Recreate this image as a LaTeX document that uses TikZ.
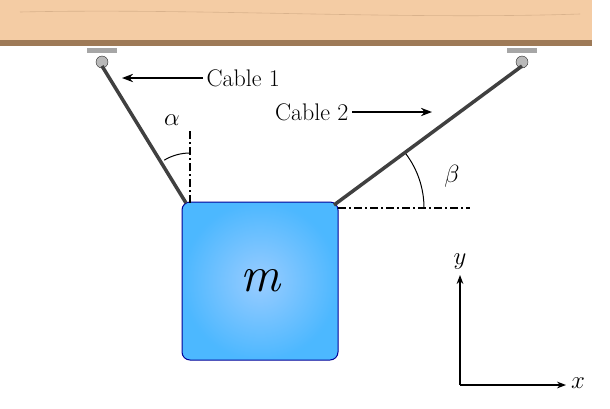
\documentclass[tikz,border=0pt]{standalone}
\usetikzlibrary{arrows.meta}
\begin{document}
\begin{tikzpicture}[x=1pt,y=-1pt,
  cable/.style={line width=3.5pt,draw=black!75},
  ref/.style={line width=1.5pt,dash pattern=on 8pt off 3pt on 2pt off 3pt},
  lab/.style={font=\fontsize{24}{28}\selectfont},
  glab/.style={font=\fontsize{30}{34}\selectfont},
  arr/.style={-{Stealth[length=11pt]},line width=2pt}]
\useasboundingbox (0,0) rectangle (610,408);
\fill[brown!45!orange!40!white] (0,0) rectangle (592,40);
\fill[brown!70!black!80] (0,40) rectangle (592,46);
\draw[brown!60,line width=0.6pt] (20,12) .. controls (200,8) and (400,20) .. (580,14);
\foreach \p/\x/\y in {m1/102/48,m2/522/48}{
  \fill[gray!70] (\x-15,\y) rectangle (\x+15,\y+5);
  \fill[gray!55,draw=gray!30!black] (\x,\y+14) circle (6);
  \coordinate (\p) at (\x,\y+18);
}
\node[draw=blue!60!black,rounded corners=8pt,minimum width=156pt,minimum height=158pt,
  inner color=cyan!50!blue!40,outer color=cyan!60!blue!70,line width=1pt] (box) at (260,281) {};
\node[font=\fontsize{50}{54}\selectfont\itshape] at (box) {m};
\coordinate (c1) at (186,203);
\coordinate (c2) at (334,205);
\draw[cable] (m1) -- (c1);
\draw[cable] (m2) -- (c2);
\coordinate (v1) at (190,130);
\coordinate (h2) at (470,208);
\draw[ref] (c1) ++(4,0) -- (v1);
\draw[ref] (c2) ++(4,3) -- (h2);
\draw[line width=1pt] (190,153) arc[start angle=90,end angle=121,radius=50pt];
\draw[line width=1pt] (424,208) arc[start angle=0,end angle=37,radius=90pt];
\node[glab] (alpha) at (172,120) {$\alpha$};
\node[glab] (beta) at (452,176) {$\beta$};
\node[lab,anchor=west] (cab1) at (203,78) {Cable 1};
\coordinate (a1) at (122,78);
\draw[arr] (cab1.west) -- (a1);
\node[lab,anchor=east] (cab2) at (352,112) {Cable 2};
\coordinate (a2) at (432,112);
\draw[arr] (cab2.east) -- (a2);
\coordinate (o) at (460,385);
\coordinate (ye) at (460,275);
\coordinate (xe) at (566,385);
\draw[-{Stealth[length=9pt]},line width=1.2pt] (o) -- (ye);
\draw[-{Stealth[length=9pt]},line width=1.2pt] (o) -- (xe);
\node[glab] (yl) at (460,262) {$y$};
\node[glab] (xl) at (578,383) {$x$};
\end{tikzpicture}
\end{document}
